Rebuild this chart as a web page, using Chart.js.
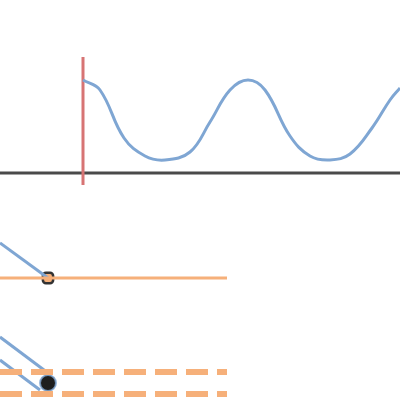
<!DOCTYPE html>
<html>
<head>
<meta charset="utf-8">
<script src="https://cdn.jsdelivr.net/npm/chart.js@4"></script>
<style>
  html, body { margin: 0; padding: 0; background: #fff; }
  #wrap { width: 400px; height: 400px; }
</style>
</head>
<body>
<div id="wrap"><canvas id="c"></canvas></div>
<script>
// wave (x, y in a 0-400 frame, y down)
const waveX = [83, 100, 124, 145, 165, 190, 210, 230, 248, 265, 290, 310, 330, 350, 372, 390, 400];
const waveY = [80, 90, 138, 156, 160, 152, 122, 90, 80, 90, 136, 156, 160, 154, 128, 100, 88];
const markerX = [83, 83];
const markerY = [57, 185];
const axisY = 173;
const guideY = 278;
const dashY = [372, 394];
const slopeA = [[0, 243], [48, 278]];
const slopeB = [[0, 337], [48, 373]];
const slopeC = [[0, 360], [40, 390]];
const squarePt = [48, 278];
const dotPt = [48, 383];

const pts = (xs, ys) => xs.map((x, i) => ({ x: x, y: ys[i] }));
const pairs = arr => arr.map(p => ({ x: p[0], y: p[1] }));

const blue = '#7fa6d3';
const orange = '#f6b07a';

new Chart(document.getElementById('c'), {
    type: 'scatter',
    data: {
        datasets: [
            { data: pts(waveX, waveY), showLine: true, borderColor: blue, borderWidth: 3, pointRadius: 0, tension: 0.4 },
            { data: pts(markerX, markerY), showLine: true, borderColor: '#d77474', borderWidth: 3, pointRadius: 0 },
            { data: pairs([[0, axisY], [400, axisY]]), showLine: true, borderColor: '#4a4a4a', borderWidth: 3, pointRadius: 0 },
            { data: pairs([[0, guideY], [227, guideY]]), showLine: true, borderColor: orange, borderWidth: 3, pointRadius: 0 },
            { data: pairs([[0, dashY[0]], [227, dashY[0]]]), showLine: true, borderColor: orange, borderWidth: 6, borderDash: [22, 9], pointRadius: 0 },
            { data: pairs([[0, dashY[1]], [227, dashY[1]]]), showLine: true, borderColor: orange, borderWidth: 6, borderDash: [22, 9], pointRadius: 0 },
            { data: pairs(slopeA), showLine: true, borderColor: blue, borderWidth: 3, pointRadius: 0 },
            { data: pairs(slopeB), showLine: true, borderColor: blue, borderWidth: 3, pointRadius: 0 },
            { data: pairs(slopeC), showLine: true, borderColor: blue, borderWidth: 3, pointRadius: 0 },
            { data: pairs([squarePt]), pointStyle: 'rectRounded', pointRadius: 6, backgroundColor: orange, borderColor: '#333', borderWidth: 2.5 },
            { data: pairs([dotPt]), pointStyle: 'circle', pointRadius: 8, backgroundColor: '#1e1e1e', borderColor: 'rgba(127,166,211,0.8)', borderWidth: 2 }
        ]
    },
    options: {
        responsive: true,
        maintainAspectRatio: false,
        animation: false,
        layout: { padding: 0, autoPadding: false },
        plugins: { legend: { display: false }, tooltip: { enabled: false } },
        scales: {
            x: { type: 'linear', min: 0, max: 400, display: false },
            y: { type: 'linear', min: 0, max: 400, reverse: true, display: false }
        }
    }
});
</script>
</body>
</html>
